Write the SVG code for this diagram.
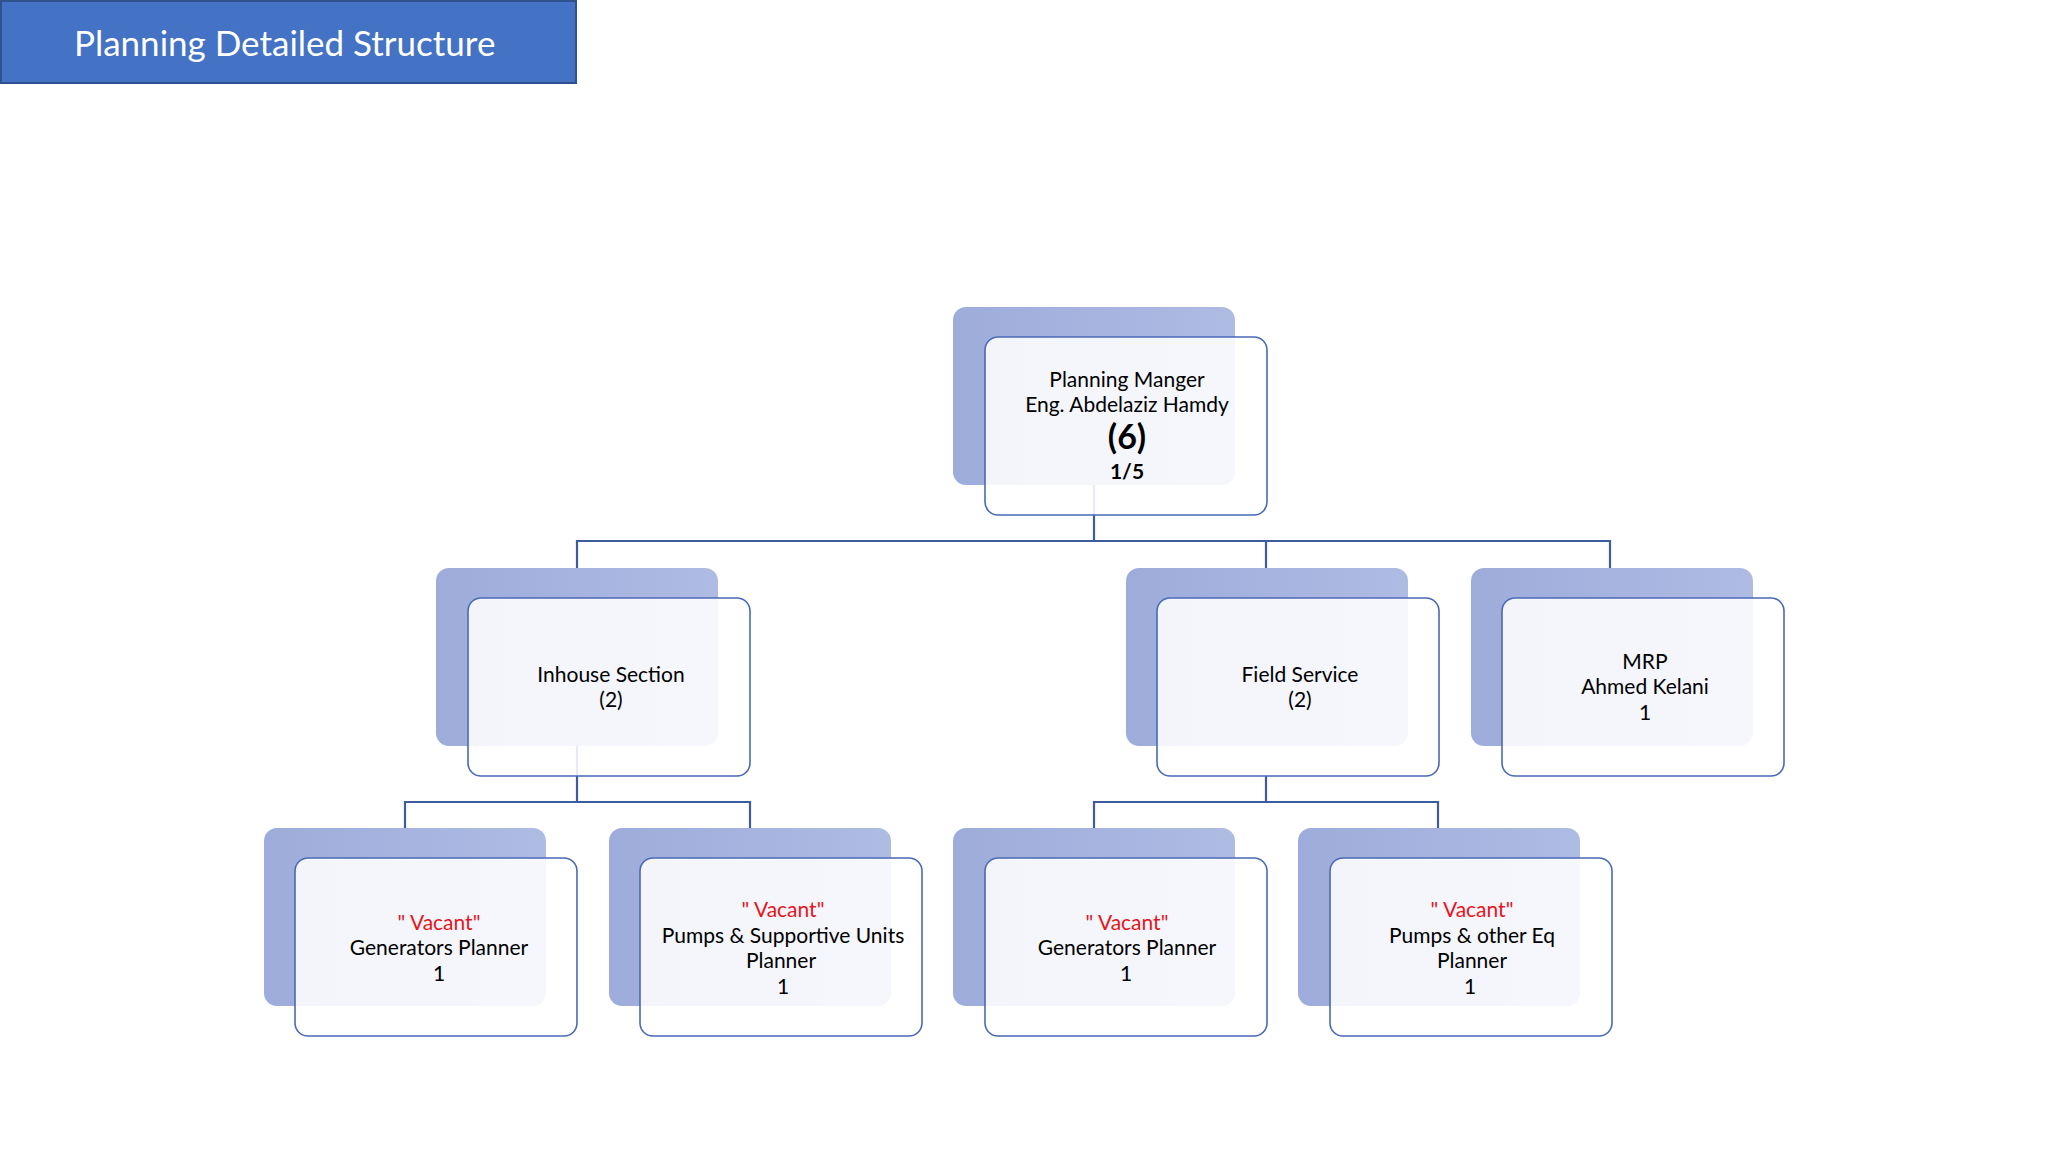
<svg xmlns="http://www.w3.org/2000/svg" width="2048" height="1152" viewBox="0 0 2048 1152">
<defs>
<linearGradient id="bg" x1="0" y1="0" x2="1" y2="0"><stop offset="0" stop-color="#9eacdb"/><stop offset="1" stop-color="#aebbe3"/></linearGradient>
<style>
.b{fill:url(#bg)}
.f{fill:#ffffff;fill-opacity:0.88;stroke:#4a6ab5;stroke-width:1.6}
.c{fill:none;stroke:#3d5c9e;stroke-width:2.2}
text{font-family:Lato,"Open Sans",sans-serif;font-size:21px;fill:#000;text-anchor:middle}
.r{fill:#e8141b}
</style>
</defs>
<rect width="2048" height="1152" fill="#fff"/>
<g id="title"><rect x="1" y="1" width="575" height="82" fill="#4472c4" stroke="#2f528f" stroke-width="2"/><text x="74" y="56" style="font-size:35px;fill:#fff;text-anchor:start">Planning Detailed Structure</text></g>
<g id="connectors">
<path class="c" d="M1094 485V541M577 568V541H1610V568M1266 541V568M577 746V802M405 828V802H750V828M1266 776V802M1094 828V802H1438V828"/>
</g>
<g id="n0"><rect class="b" x="953" y="307" width="282" height="178" rx="13"/><rect class="f" x="985" y="337" width="282" height="178" rx="13"/>
<text x="1127" y="387">Planning Manger</text><text x="1127" y="412">Eng. Abdelaziz Hamdy</text><text x="1127" y="449" style="font-size:34px;font-weight:bold">(6)</text><text x="1127" y="479" style="font-weight:bold">1/5</text></g>
<g id="n1"><rect class="b" x="436" y="568" width="282" height="178" rx="13"/><rect class="f" x="468" y="598" width="282" height="178" rx="13"/>
<text x="611" y="682">Inhouse Section</text><text x="611" y="707">(2)</text></g>
<g id="n2"><rect class="b" x="1126" y="568" width="282" height="178" rx="13"/><rect class="f" x="1157" y="598" width="282" height="178" rx="13"/>
<text x="1300" y="682">Field Service</text><text x="1300" y="707">(2)</text></g>
<g id="n3"><rect class="b" x="1471" y="568" width="282" height="178" rx="13"/><rect class="f" x="1502" y="598" width="282" height="178" rx="13"/>
<text x="1645" y="669">MRP</text><text x="1645" y="694">Ahmed Kelani</text><text x="1645" y="720">1</text></g>
<g id="n4"><rect class="b" x="264" y="828" width="282" height="178" rx="13"/><rect class="f" x="295" y="858" width="282" height="178" rx="13"/>
<text class="r" x="439" y="930">" Vacant"</text><text x="439" y="955">Generators Planner</text><text x="439" y="981">1</text></g>
<g id="n5"><rect class="b" x="609" y="828" width="282" height="178" rx="13"/><rect class="f" x="640" y="858" width="282" height="178" rx="13"/>
<text class="r" x="783" y="917">" Vacant"</text><text x="783" y="943">Pumps &amp; Supportive Units</text><text x="781" y="968">Planner</text><text x="783" y="994">1</text></g>
<g id="n6"><rect class="b" x="953" y="828" width="282" height="178" rx="13"/><rect class="f" x="985" y="858" width="282" height="178" rx="13"/>
<text class="r" x="1127" y="930">" Vacant"</text><text x="1127" y="955">Generators Planner</text><text x="1126" y="981">1</text></g>
<g id="n7"><rect class="b" x="1298" y="828" width="282" height="178" rx="13"/><rect class="f" x="1330" y="858" width="282" height="178" rx="13"/>
<text class="r" x="1472" y="917">" Vacant"</text><text x="1472" y="943">Pumps &amp; other Eq</text><text x="1472" y="968">Planner</text><text x="1470" y="994">1</text></g>
</svg>
